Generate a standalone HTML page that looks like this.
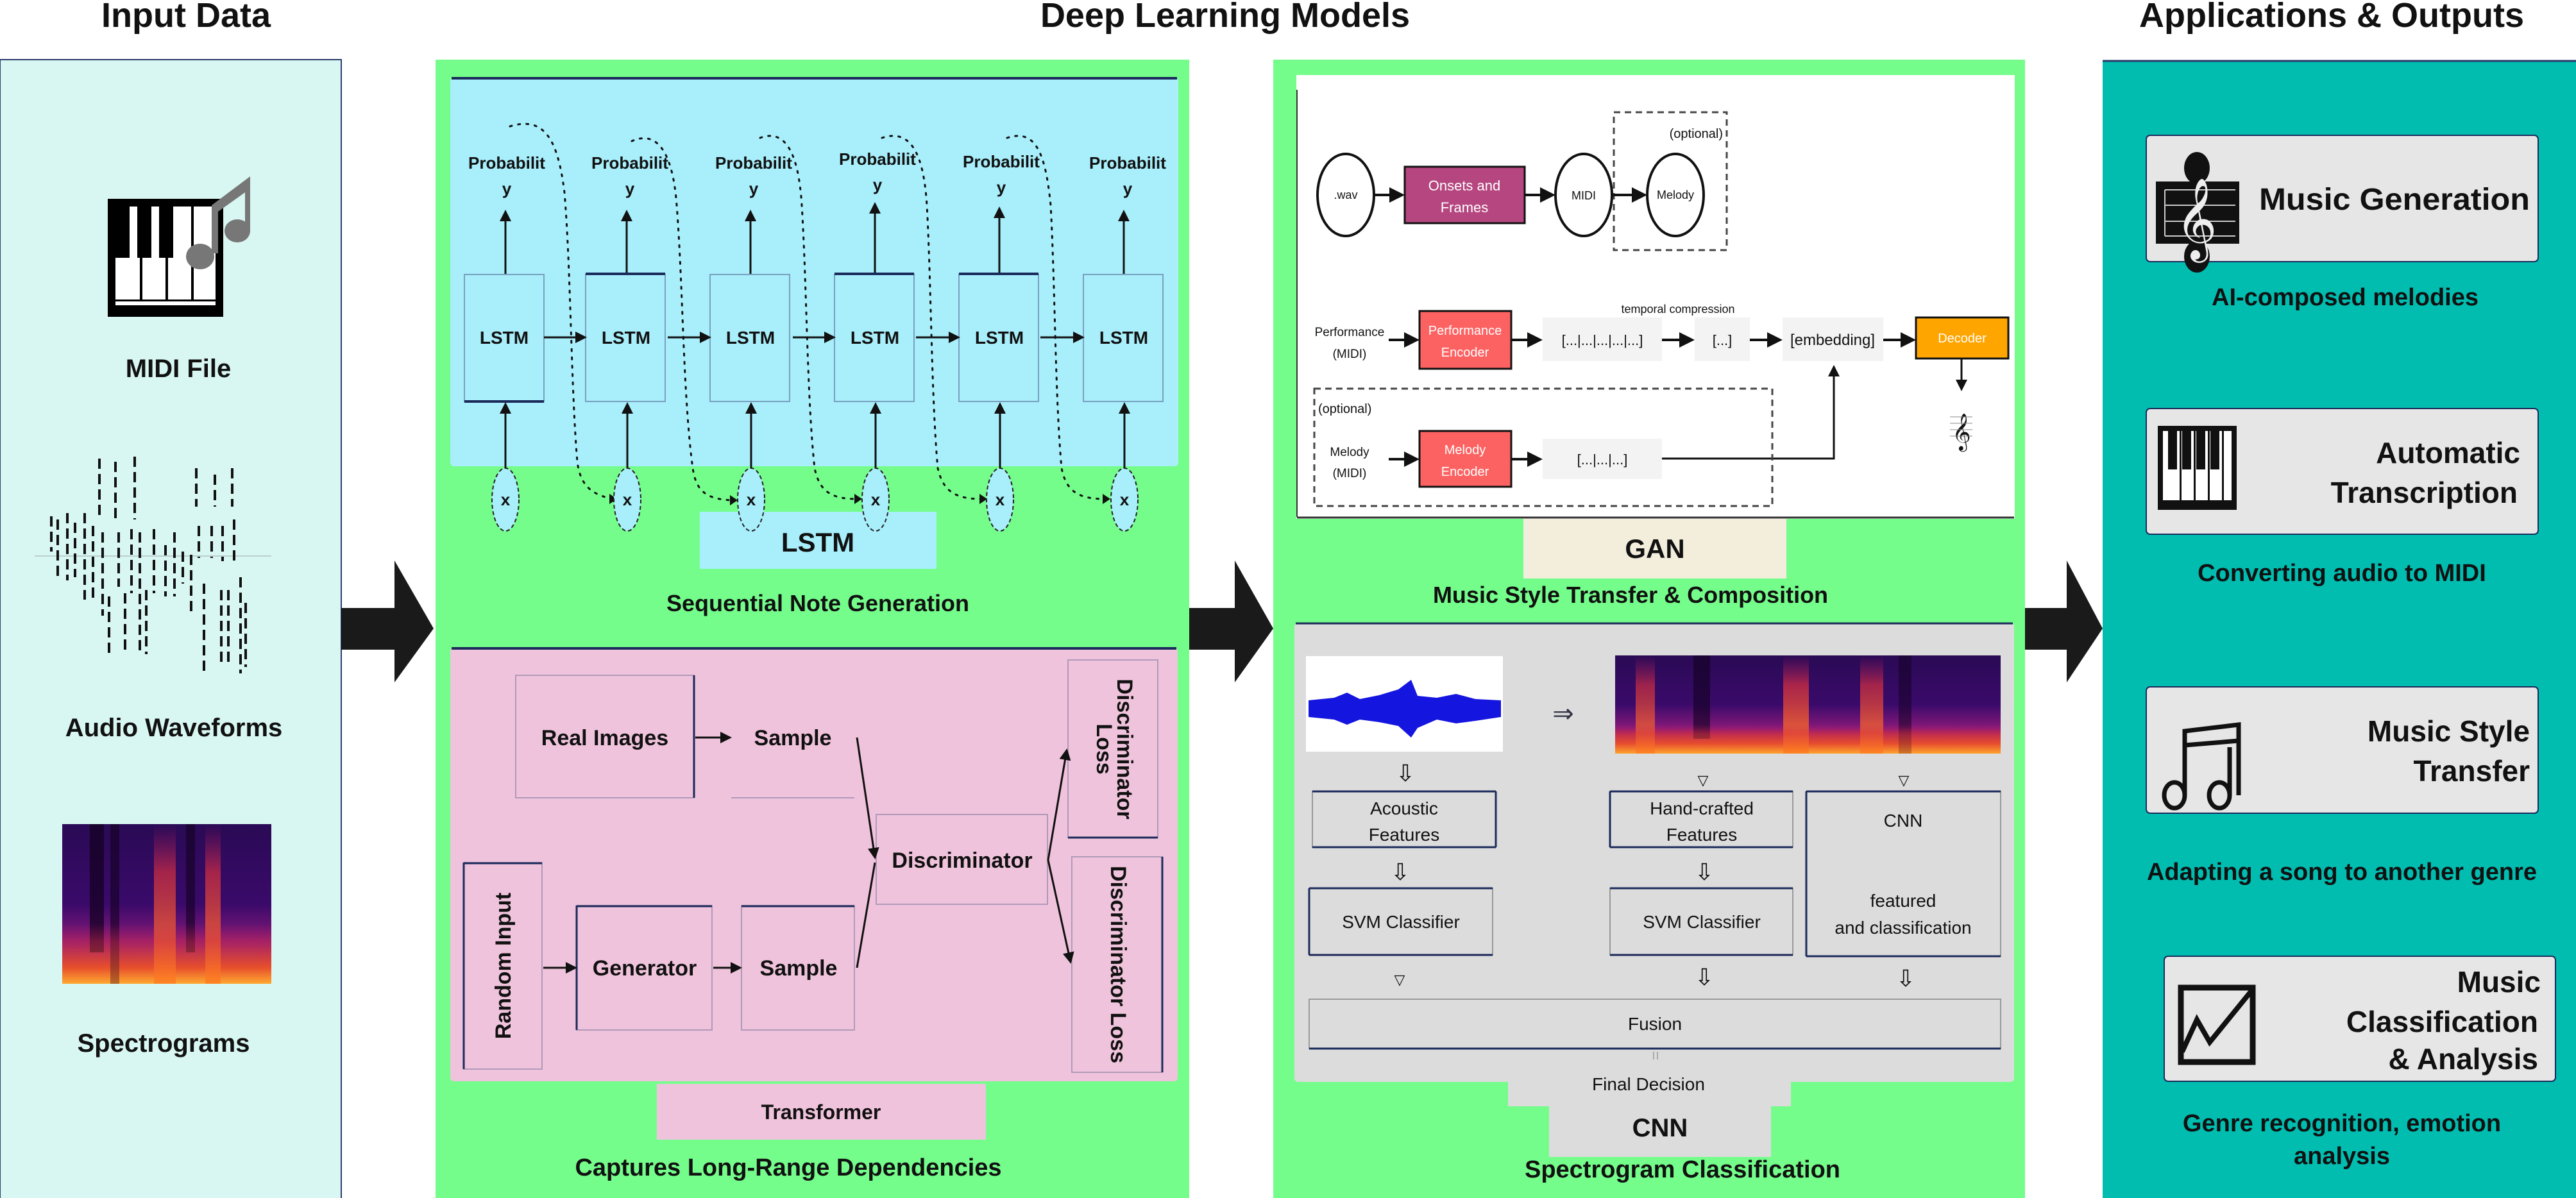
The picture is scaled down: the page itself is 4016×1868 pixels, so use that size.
<!DOCTYPE html>
<html><head><meta charset="utf-8"><style>
html,body{margin:0;padding:0;background:#fff;}
svg{display:block;}
text{font-family:"Liberation Sans",Arial,sans-serif;font-weight:bold;fill:#111;}
.n{font-weight:normal;}
</style></head><body>
<svg width="4016" height="1868" viewBox="0 0 4016 1868" xmlns="http://www.w3.org/2000/svg">
<defs>
<marker id="ah" markerWidth="8" markerHeight="8" refX="7" refY="4" orient="auto" markerUnits="strokeWidth"><path d="M0,0 L8,4 L0,8 z" fill="#111"/></marker>
<marker id="ahs" markerWidth="6" markerHeight="6" refX="5" refY="3" orient="auto" markerUnits="strokeWidth"><path d="M0,0 L6,3 L0,6 z" fill="#111"/></marker>
<linearGradient id="spec" x1="0" y1="0" x2="0" y2="1">
<stop offset="0" stop-color="#2a0a55"/><stop offset="0.5" stop-color="#3a0a6a"/><stop offset="0.75" stop-color="#8a1a7a"/><stop offset="0.9" stop-color="#e0402a"/><stop offset="1" stop-color="#ffd040"/></linearGradient>
<linearGradient id="band" x1="0" y1="0" x2="0" y2="1">
<stop offset="0" stop-color="#c0205a" stop-opacity="0"/><stop offset="0.3" stop-color="#d83040" stop-opacity="0.8"/><stop offset="1" stop-color="#ff8020"/></linearGradient>
</defs>

<!-- titles -->
<text x="290" y="42" font-size="54" text-anchor="middle">Input Data</text>
<text x="1910" y="42" font-size="54" text-anchor="middle">Deep Learning Models</text>
<text x="3635" y="42" font-size="54" text-anchor="middle">Applications &amp; Outputs</text>

<!-- panels -->
<rect x="0" y="93" width="532" height="1780" fill="#d9f7f2" stroke="#2a3a6a" stroke-width="2"/>
<rect x="679" y="93" width="1175" height="1780" fill="#75fd8b"/>
<rect x="1985" y="93" width="1172" height="1780" fill="#75fd8b"/>
<rect x="3278" y="94" width="738" height="1780" fill="#00bdb0"/>
<line x1="3278" y1="95" x2="4016" y2="95" stroke="#2a3a6a" stroke-width="3"/>

<!-- big arrows -->
<g fill="#1a1a1a">
<path d="M532,948 L615,948 L615,874 L676,980 L615,1064 L615,1013 L532,1013 z"/>
<path d="M1854,948 L1925,948 L1925,874 L1985,980 L1925,1064 L1925,1013 L1854,1013 z"/>
<path d="M3157,948 L3222,948 L3222,874 L3278,980 L3222,1064 L3222,1013 L3157,1013 z"/>
</g>

<!-- Input panel content -->
<g>
<rect x="168" y="310" width="180" height="184" fill="#000"/>
<rect x="180" y="322" width="156" height="145" fill="#fff"/>
<rect x="180" y="322" width="22" height="80" fill="#000"/>
<rect x="214" y="322" width="22" height="80" fill="#000"/>
<rect x="248" y="322" width="22" height="80" fill="#000"/>
<rect x="218" y="322" width="4" height="145" fill="#000"/>
<rect x="258" y="322" width="4" height="145" fill="#000"/>
<rect x="298" y="322" width="4" height="145" fill="#000"/>
<rect x="180" y="470" width="156" height="6" fill="#fff"/>
<path d="M330,320 L390,275 L390,360 L382,360 L382,300 L340,330 L340,395 L330,395 z" fill="#777"/>
<ellipse cx="312" cy="400" rx="22" ry="20" fill="#777"/>
<ellipse cx="370" cy="360" rx="20" ry="18" fill="#777"/>
</g>
<text x="278" y="588" font-size="40" text-anchor="middle">MIDI File</text>
<line x1="54" y1="867" x2="423" y2="867" stroke="#bcd0cc" stroke-width="2"/>
<g stroke="#111" stroke-width="4" stroke-dasharray="16 8">
<line x1="80" y1="805" x2="80" y2="860"/><line x1="90" y1="810" x2="90" y2="905"/><line x1="105" y1="800" x2="105" y2="905"/><line x1="117" y1="815" x2="117" y2="900"/>
<line x1="132" y1="800" x2="132" y2="935"/><line x1="145" y1="820" x2="145" y2="940"/><line x1="155" y1="715" x2="155" y2="810"/><line x1="160" y1="830" x2="160" y2="960"/>
<line x1="170" y1="930" x2="170" y2="1025"/><line x1="180" y1="720" x2="180" y2="810"/><line x1="185" y1="830" x2="185" y2="915"/><line x1="195" y1="925" x2="195" y2="1020"/>
<line x1="205" y1="825" x2="205" y2="925"/><line x1="210" y1="712" x2="210" y2="810"/><line x1="218" y1="830" x2="218" y2="1020"/><line x1="228" y1="920" x2="228" y2="1020"/>
<line x1="240" y1="825" x2="240" y2="925"/><line x1="258" y1="850" x2="258" y2="930"/><line x1="272" y1="830" x2="272" y2="930"/><line x1="285" y1="860" x2="285" y2="910"/>
<line x1="298" y1="865" x2="298" y2="960"/><line x1="306" y1="730" x2="306" y2="790"/><line x1="310" y1="820" x2="310" y2="870"/><line x1="318" y1="910" x2="318" y2="1050"/>
<line x1="330" y1="820" x2="330" y2="870"/><line x1="335" y1="740" x2="335" y2="790"/><line x1="345" y1="920" x2="345" y2="1040"/><line x1="347" y1="820" x2="347" y2="875"/>
<line x1="356" y1="920" x2="356" y2="1040"/><line x1="362" y1="730" x2="362" y2="790"/><line x1="365" y1="810" x2="365" y2="880"/><line x1="375" y1="900" x2="375" y2="1050"/><line x1="383" y1="940" x2="383" y2="1040"/>
</g>
<text x="271" y="1148" font-size="40" text-anchor="middle">Audio Waveforms</text>
<g>
<rect x="97" y="1285" width="326" height="249" fill="url(#spec)"/>
<rect x="140" y="1285" width="22" height="200" fill="#12001e" opacity="0.7"/>
<rect x="172" y="1285" width="14" height="249" fill="#12001e" opacity="0.6"/>
<rect x="240" y="1285" width="34" height="249" fill="url(#band)" opacity="0.85"/>
<rect x="320" y="1285" width="24" height="249" fill="url(#band)" opacity="0.85"/>
<rect x="290" y="1285" width="14" height="200" fill="#12001e" opacity="0.6"/>
<rect x="97" y="1440" width="326" height="94" fill="url(#band)" opacity="0.5"/>
</g>
<text x="255" y="1640" font-size="40" text-anchor="middle">Spectrograms</text>

<!-- LSTM section -->
<rect x="702" y="121" width="1135" height="606" rx="6" fill="#a8eefb"/>
<line x1="704" y1="122" x2="1835" y2="122" stroke="#1a2a5a" stroke-width="4"/>
<g font-size="26" text-anchor="middle">
<text x="790" y="263">Probabilit</text><text x="790" y="303">y</text>
<text x="982" y="263">Probabilit</text><text x="982" y="303">y</text>
<text x="1175" y="263">Probabilit</text><text x="1175" y="303">y</text>
<text x="1368" y="257">Probabilit</text><text x="1368" y="297">y</text>
<text x="1561" y="261">Probabilit</text><text x="1561" y="301">y</text>
<text x="1758" y="263">Probabilit</text><text x="1758" y="303">y</text>
</g>
<g stroke="#111" stroke-width="3" fill="none">
<line x1="788" y1="428" x2="788" y2="330" marker-end="url(#ahs)"/>
<line x1="977" y1="428" x2="977" y2="330" marker-end="url(#ahs)"/>
<line x1="1170" y1="428" x2="1170" y2="330" marker-end="url(#ahs)"/>
<line x1="1364" y1="428" x2="1364" y2="318" marker-end="url(#ahs)"/>
<line x1="1558" y1="428" x2="1558" y2="325" marker-end="url(#ahs)"/>
<line x1="1752" y1="428" x2="1752" y2="330" marker-end="url(#ahs)"/>
</g>
<g fill="none" stroke="#7aa0c0" stroke-width="2">
<rect x="724" y="428" width="124" height="198"/>
<rect x="913" y="428" width="124" height="198"/>
<rect x="1107" y="428" width="124" height="198"/>
<rect x="1301" y="428" width="124" height="198"/>
<rect x="1495" y="428" width="124" height="198"/>
<rect x="1689" y="428" width="124" height="198"/>
</g>
<g stroke="#1a2a5a" stroke-width="4">
<line x1="724" y1="626" x2="848" y2="626"/>
<line x1="913" y1="427" x2="1037" y2="427"/>
<line x1="1301" y1="427" x2="1425" y2="427"/>
<line x1="1495" y1="427" x2="1619" y2="427"/>
</g>
<g font-size="28" text-anchor="middle">
<text x="786" y="536">LSTM</text><text x="976" y="536">LSTM</text><text x="1170" y="536">LSTM</text>
<text x="1364" y="536">LSTM</text><text x="1558" y="536">LSTM</text><text x="1752" y="536">LSTM</text>
</g>
<g stroke="#111" stroke-width="3" fill="none">
<line x1="848" y1="526" x2="912" y2="526" marker-end="url(#ahs)"/>
<line x1="1041" y1="526" x2="1106" y2="526" marker-end="url(#ahs)"/>
<line x1="1236" y1="526" x2="1300" y2="526" marker-end="url(#ahs)"/>
<line x1="1428" y1="526" x2="1494" y2="526" marker-end="url(#ahs)"/>
<line x1="1622" y1="526" x2="1688" y2="526" marker-end="url(#ahs)"/>
<line x1="788" y1="730" x2="788" y2="630" marker-end="url(#ahs)"/>
<line x1="978" y1="730" x2="978" y2="630" marker-end="url(#ahs)"/>
<line x1="1171" y1="730" x2="1171" y2="630" marker-end="url(#ahs)"/>
<line x1="1365" y1="730" x2="1365" y2="630" marker-end="url(#ahs)"/>
<line x1="1559" y1="730" x2="1559" y2="630" marker-end="url(#ahs)"/>
<line x1="1753" y1="730" x2="1753" y2="630" marker-end="url(#ahs)"/>
</g>
<g stroke="#111" stroke-width="3" fill="none" stroke-dasharray="3 10" stroke-linecap="round">
<path d="M795,197 C850,180 870,220 880,300 C890,420 890,600 900,720 C905,760 925,770 950,777"/>
<path d="M985,220 C1030,200 1050,250 1055,320 C1065,450 1065,620 1080,730 C1085,765 1100,778 1140,780"/>
<path d="M1185,215 C1225,200 1245,240 1250,320 C1258,450 1258,620 1270,730 C1277,765 1295,778 1335,778"/>
<path d="M1375,215 C1420,200 1440,240 1445,320 C1452,450 1452,620 1462,730 C1470,765 1488,778 1530,778"/>
<path d="M1570,215 C1615,200 1630,240 1638,320 C1645,450 1645,620 1655,730 C1662,765 1680,778 1722,778"/>
</g>
<g fill="#111"><path d="M950,770 L962,778 L950,786z"/><path d="M1138,772 L1150,780 L1138,788z"/><path d="M1332,770 L1344,778 L1332,786z"/><path d="M1527,770 L1539,778 L1527,786z"/><path d="M1719,770 L1731,778 L1719,786z"/></g>
<rect x="1091" y="798" width="369" height="89" fill="#a8eefb"/>
<text x="1275" y="860" font-size="42" text-anchor="middle">LSTM</text>
<g fill="#a8eefb" stroke="#222" stroke-width="2" stroke-dasharray="6 4">
<ellipse cx="788" cy="779" rx="21" ry="49"/><ellipse cx="978" cy="779" rx="21" ry="49"/><ellipse cx="1171" cy="779" rx="21" ry="49"/>
<ellipse cx="1365" cy="779" rx="21" ry="49"/><ellipse cx="1559" cy="779" rx="21" ry="49"/><ellipse cx="1753" cy="779" rx="21" ry="49"/>
</g>
<g font-size="26" text-anchor="middle">
<text x="788" y="788">x</text><text x="978" y="788">x</text><text x="1171" y="788">x</text><text x="1365" y="788">x</text><text x="1559" y="788">x</text><text x="1753" y="788">x</text>
</g>
<text x="1275" y="953" font-size="36" text-anchor="middle">Sequential Note Generation</text>

<!-- Pink diagram -->
<rect x="702" y="1010" width="1134" height="676" rx="6" fill="#f0c3dc"/>
<line x1="704" y1="1011" x2="1834" y2="1011" stroke="#1a2a5a" stroke-width="4"/>
<g fill="none" stroke="#b09ab8" stroke-width="2">
<rect x="804" y="1053" width="278" height="191"/>
<line x1="1140" y1="1244" x2="1332" y2="1244"/>
<rect x="1366" y="1270" width="267" height="140"/>
<rect x="1665" y="1029" width="140" height="277"/>
<rect x="723" y="1345" width="122" height="322"/>
<rect x="899" y="1412" width="211" height="194"/>
<rect x="1156" y="1412" width="176" height="194"/>
<rect x="1671" y="1336" width="141" height="336"/>
</g>
<g stroke="#1a2a5a" stroke-width="3">
<line x1="1082" y1="1053" x2="1082" y2="1244"/>
<line x1="723" y1="1346" x2="845" y2="1346"/><line x1="723" y1="1345" x2="723" y2="1667"/>
<line x1="899" y1="1413" x2="1110" y2="1413"/><line x1="899" y1="1412" x2="899" y2="1606"/>
<line x1="1156" y1="1413" x2="1332" y2="1413"/>
<line x1="1665" y1="1306" x2="1805" y2="1306"/>
<line x1="1812" y1="1336" x2="1812" y2="1672"/>
</g>
<g font-size="34" text-anchor="middle">
<text x="943" y="1162">Real Images</text>
<text x="1236" y="1162">Sample</text>
<text x="1500" y="1353">Discriminator</text>
<text x="1005" y="1521">Generator</text>
<text x="1245" y="1521">Sample</text>
</g>
<text font-size="34" text-anchor="middle" transform="translate(1742,1168) rotate(90)">Discriminator</text>
<text font-size="34" text-anchor="middle" transform="translate(1710,1168) rotate(90)">Loss</text>
<text font-size="34" text-anchor="middle" transform="translate(1732,1504) rotate(90)">Discriminator Loss</text>
<text font-size="34" text-anchor="middle" transform="translate(796,1506) rotate(-90)">Random Input</text>
<g stroke="#111" stroke-width="3" fill="none">
<line x1="1084" y1="1150" x2="1138" y2="1150" marker-end="url(#ahs)"/>
<line x1="847" y1="1509" x2="897" y2="1509" marker-end="url(#ahs)"/>
<line x1="1112" y1="1509" x2="1154" y2="1509" marker-end="url(#ahs)"/>
<line x1="1336" y1="1150" x2="1364" y2="1337" marker-end="url(#ahs)"/>
<line x1="1336" y1="1509" x2="1364" y2="1345"/>
<line x1="1634" y1="1341" x2="1663" y2="1170" marker-end="url(#ahs)"/>
<line x1="1634" y1="1341" x2="1669" y2="1500" marker-end="url(#ahs)"/>
</g>
<rect x="1024" y="1690" width="513" height="87" fill="#f0c3dc"/>
<text x="1280" y="1745" font-size="32" text-anchor="middle">Transformer</text>
<text x="1229" y="1833" font-size="38" text-anchor="middle">Captures Long-Range Dependencies</text>

<!-- GAN white box -->
<rect x="2021" y="117" width="1120" height="692" fill="#fff"/>
<line x1="2022" y1="140" x2="2022" y2="806" stroke="#333" stroke-width="2"/>
<line x1="2022" y1="807" x2="3140" y2="807" stroke="#333" stroke-width="3"/>
<g fill="#fff" stroke="#111" stroke-width="4">
<ellipse cx="2098" cy="304" rx="44" ry="64"/>
<ellipse cx="2469" cy="304" rx="44" ry="64"/>
<ellipse cx="2612" cy="304" rx="44" ry="64"/>
</g>
<rect x="2190" y="260" width="187" height="88" fill="#b5467f" stroke="#111" stroke-width="3"/>
<rect x="2516" y="175" width="176" height="215" fill="none" stroke="#444" stroke-width="3" stroke-dasharray="10 7"/>
<text x="2686" y="215" font-size="20" text-anchor="end" class="n">(optional)</text>
<g font-size="18" class="n" text-anchor="middle">
<text x="2098" y="310" class="n">.wav</text>
<text x="2469" y="311" class="n">MIDI</text>
<text x="2612" y="310" class="n">Melody</text>
</g>
<text x="2283" y="297" font-size="22" text-anchor="middle" class="n" style="fill:#fff">Onsets and</text>
<text x="2283" y="331" font-size="22" text-anchor="middle" class="n" style="fill:#fff">Frames</text>
<g stroke="#111" stroke-width="4" fill="none">
<line x1="2142" y1="304" x2="2186" y2="304" marker-end="url(#ahs)"/>
<line x1="2377" y1="304" x2="2421" y2="304" marker-end="url(#ahs)"/>
<line x1="2513" y1="304" x2="2564" y2="304" marker-end="url(#ahs)"/>
</g>
<text x="2616" y="488" font-size="18" text-anchor="middle" class="n">temporal compression</text>
<text x="2104" y="524" font-size="19" text-anchor="middle" class="n">Performance</text>
<text x="2104" y="558" font-size="19" text-anchor="middle" class="n">(MIDI)</text>
<rect x="2213" y="485" width="143" height="90" fill="#fd6262" stroke="#111" stroke-width="3"/>
<text x="2284" y="522" font-size="20" text-anchor="middle" class="n" style="fill:#fff">Performance</text>
<text x="2284" y="556" font-size="20" text-anchor="middle" class="n" style="fill:#fff">Encoder</text>
<rect x="2405" y="495" width="186" height="68" fill="#f3f3f3"/>
<text x="2498" y="538" font-size="22" text-anchor="middle" class="n">[...|...|...|...|...]</text>
<rect x="2642" y="495" width="86" height="68" fill="#f3f3f3"/>
<text x="2685" y="538" font-size="22" text-anchor="middle" class="n">[...]</text>
<rect x="2779" y="495" width="157" height="68" fill="#f3f3f3"/>
<text x="2857" y="538" font-size="24" text-anchor="middle" class="n">[embedding]</text>
<rect x="2987" y="495" width="144" height="64" fill="#ffa500" stroke="#111" stroke-width="3"/>
<text x="3059" y="534" font-size="20" text-anchor="middle" class="n" style="fill:#fff">Decoder</text>
<g stroke="#111" stroke-width="4" fill="none">
<line x1="2165" y1="530" x2="2209" y2="530" marker-end="url(#ahs)"/>
<line x1="2356" y1="530" x2="2401" y2="530" marker-end="url(#ahs)"/>
<line x1="2591" y1="530" x2="2638" y2="530" marker-end="url(#ahs)"/>
<line x1="2728" y1="530" x2="2775" y2="530" marker-end="url(#ahs)"/>
<line x1="2936" y1="530" x2="2983" y2="530" marker-end="url(#ahs)"/>
<line x1="2165" y1="716" x2="2209" y2="716" marker-end="url(#ahs)"/>
<line x1="2356" y1="716" x2="2401" y2="716" marker-end="url(#ahs)"/>
</g>
<g stroke="#111" stroke-width="3" fill="none">
<line x1="3058" y1="559" x2="3058" y2="607" marker-end="url(#ahs)"/>
<polyline points="2591,715 2859,715 2859,572" marker-end="url(#ahs)"/>
</g>
<text x="3058" y="690" font-size="50" text-anchor="middle" class="n">𝄞</text>
<g stroke="#888" stroke-width="1"><line x1="3040" y1="650" x2="3075" y2="650"/><line x1="3040" y1="660" x2="3075" y2="660"/><line x1="3040" y1="670" x2="3075" y2="670"/><line x1="3040" y1="680" x2="3075" y2="680"/></g>
<rect x="2049" y="606" width="714" height="183" fill="none" stroke="#444" stroke-width="3" stroke-dasharray="10 7"/>
<text x="2055" y="644" font-size="20" class="n">(optional)</text>
<text x="2104" y="711" font-size="19" text-anchor="middle" class="n">Melody</text>
<text x="2104" y="744" font-size="19" text-anchor="middle" class="n">(MIDI)</text>
<rect x="2213" y="672" width="143" height="87" fill="#fd6262" stroke="#111" stroke-width="3"/>
<text x="2284" y="708" font-size="20" text-anchor="middle" class="n" style="fill:#fff">Melody</text>
<text x="2284" y="742" font-size="20" text-anchor="middle" class="n" style="fill:#fff">Encoder</text>
<rect x="2405" y="684" width="186" height="63" fill="#f3f3f3"/>
<text x="2498" y="724" font-size="22" text-anchor="middle" class="n">[...|...|...]</text>
<rect x="2375" y="809" width="410" height="93" fill="#f3eedc"/>
<text x="2580" y="870" font-size="42" text-anchor="middle">GAN</text>
<text x="2542" y="940" font-size="36" text-anchor="middle">Music Style Transfer &amp; Composition</text>

<!-- CNN section -->
<rect x="2018" y="971" width="1122" height="716" rx="6" fill="#dcdcdc"/>
<line x1="2020" y1="972" x2="3138" y2="972" stroke="#1a2a5a" stroke-width="3"/>
<rect x="2036" y="1023" width="307" height="149" fill="#fff"/>
<path d="M2040,1092 L2080,1088 L2100,1080 L2120,1090 L2150,1084 L2180,1075 L2200,1060 L2210,1085 L2240,1088 L2270,1082 L2300,1090 L2340,1092 L2340,1118 L2300,1124 L2270,1128 L2240,1122 L2210,1135 L2200,1150 L2180,1132 L2150,1126 L2120,1122 L2100,1130 L2080,1122 L2040,1118 z" fill="#1515e0"/>
<text x="2437" y="1126" font-size="40" text-anchor="middle" class="n" style="fill:#334">⇒</text>
<rect x="2518" y="1022" width="601" height="153" fill="url(#spec)"/>
<rect x="2550" y="1022" width="30" height="153" fill="url(#band)" opacity="0.8"/>
<rect x="2640" y="1022" width="26" height="130" fill="#12001e" opacity="0.6"/>
<rect x="2780" y="1022" width="40" height="153" fill="url(#band)" opacity="0.9"/>
<rect x="2900" y="1022" width="36" height="153" fill="url(#band)" opacity="0.85"/>
<rect x="2960" y="1022" width="20" height="153" fill="#12001e" opacity="0.5"/>
<rect x="2518" y="1130" width="601" height="45" fill="url(#band)" opacity="0.6"/>
<g font-size="36" text-anchor="middle" class="n" style="fill:#445">
<text x="2191" y="1218" class="n">⇩</text>
<text x="2183" y="1372" class="n">⇩</text>
<text x="2657" y="1372" class="n">⇩</text>
<text x="2657" y="1536" class="n">⇩</text>
<text x="2971" y="1538" class="n">⇩</text>
</g>
<g font-size="22" text-anchor="middle" class="n" style="fill:#445">
<text x="2655" y="1224" class="n">▽</text><text x="2968" y="1224" class="n">▽</text><text x="2182" y="1535" class="n">▽</text>
</g>
<g fill="none" stroke="#999" stroke-width="2">
<rect x="2046" y="1234" width="286" height="87"/>
<rect x="2041" y="1385" width="286" height="104"/>
<rect x="2510" y="1234" width="285" height="87"/>
<rect x="2510" y="1385" width="285" height="104"/>
<rect x="2816" y="1234" width="303" height="257"/>
<rect x="2041" y="1558" width="1078" height="77"/>
</g>
<g stroke="#1a2a5a" stroke-width="3">
<line x1="2046" y1="1234" x2="2332" y2="1234"/><line x1="2046" y1="1321" x2="2332" y2="1321"/><line x1="2332" y1="1234" x2="2332" y2="1321"/>
<line x1="2041" y1="1385" x2="2327" y2="1385"/><line x1="2041" y1="1489" x2="2327" y2="1489"/><line x1="2041" y1="1385" x2="2041" y2="1489"/>
<line x1="2510" y1="1234" x2="2795" y2="1234"/><line x1="2510" y1="1321" x2="2795" y2="1321"/><line x1="2510" y1="1234" x2="2510" y2="1321"/>
<line x1="2510" y1="1385" x2="2795" y2="1385"/><line x1="2510" y1="1489" x2="2795" y2="1489"/>
<line x1="2816" y1="1234" x2="3119" y2="1234"/><line x1="2816" y1="1491" x2="3119" y2="1491"/><line x1="2816" y1="1234" x2="2816" y2="1491"/>
<line x1="2041" y1="1635" x2="3119" y2="1635"/>
</g>
<g font-size="28" text-anchor="middle" class="n" style="fill:#111">
<text x="2189" y="1270" class="n">Acoustic</text><text x="2189" y="1311" class="n">Features</text>
<text x="2184" y="1447" class="n">SVM Classifier</text>
<text x="2653" y="1270" class="n">Hand-crafted</text><text x="2653" y="1311" class="n">Features</text>
<text x="2653" y="1447" class="n">SVM Classifier</text>
<text x="2967" y="1289" class="n">CNN</text>
<text x="2967" y="1414" class="n">featured</text><text x="2967" y="1456" class="n">and classification</text>
<text x="2580" y="1606" class="n">Fusion</text>
</g>
<line x1="2578" y1="1640" x2="2578" y2="1652" stroke="#aaa" stroke-width="2"/>
<line x1="2584" y1="1640" x2="2584" y2="1652" stroke="#aaa" stroke-width="2"/>
<rect x="2351" y="1686" width="441" height="39" fill="#dcdcdc"/>
<rect x="2415" y="1725" width="346" height="79" fill="#dcdcdc"/>
<text x="2570" y="1700" font-size="28" text-anchor="middle" class="n">Final Decision</text>
<text x="2588" y="1772" font-size="40" text-anchor="middle">CNN</text>
<text x="2623" y="1836" font-size="38" text-anchor="middle">Spectrogram Classification</text>

<!-- Applications -->
<g fill="#e6e6e6" stroke="#1a2a5a" stroke-width="2">
<rect x="3346" y="211" width="611" height="197" rx="6"/>
<rect x="3346" y="637" width="611" height="196" rx="6"/>
<rect x="3346" y="1071" width="611" height="197" rx="6"/>
<rect x="3374" y="1491" width="610" height="195" rx="6"/>
</g>
<rect x="3361" y="283" width="130" height="97" fill="#111"/>
<ellipse cx="3425" cy="262" rx="20" ry="25" fill="#111"/>
<ellipse cx="3425" cy="400" rx="20" ry="25" fill="#111"/>
<g stroke="#ccc" stroke-width="2"><line x1="3375" y1="296" x2="3485" y2="296"/><line x1="3375" y1="320" x2="3485" y2="320"/><line x1="3375" y1="345" x2="3485" y2="345"/><line x1="3375" y1="368" x2="3485" y2="368"/><line x1="3375" y1="296" x2="3375" y2="368"/></g>
<text x="3424" y="378" font-size="110" text-anchor="middle" class="n" style="fill:#eee">𝄞</text>
<text x="3522" y="327" font-size="48" textLength="422" lengthAdjust="spacingAndGlyphs">Music Generation</text>
<text x="3656" y="476" font-size="38" text-anchor="middle">AI-composed melodies</text>
<rect x="3364" y="664" width="123" height="131" fill="#111"/>
<rect x="3372" y="672" width="107" height="108" fill="#fff"/>
<rect x="3380" y="672" width="14" height="60" fill="#111"/><rect x="3402" y="672" width="14" height="60" fill="#111"/><rect x="3424" y="672" width="14" height="60" fill="#111"/><rect x="3446" y="672" width="14" height="60" fill="#111"/>
<rect x="3398" y="672" width="3" height="108" fill="#111"/><rect x="3420" y="672" width="3" height="108" fill="#111"/><rect x="3442" y="672" width="3" height="108" fill="#111"/><rect x="3464" y="672" width="3" height="108" fill="#111"/>
<text x="3929" y="722" font-size="46" text-anchor="end">Automatic</text>
<text x="3925" y="784" font-size="46" text-anchor="end">Transcription</text>
<text x="3651" y="906" font-size="38" text-anchor="middle">Converting audio to MIDI</text>
<g fill="none" stroke="#111" stroke-width="7">
<ellipse cx="3390" cy="1240" rx="16" ry="20"/><ellipse cx="3460" cy="1240" rx="16" ry="20"/>
<polyline points="3406,1240 3406,1140 3490,1130 3490,1240"/>
<line x1="3406" y1="1162" x2="3490" y2="1155"/>
<line x1="3476" y1="1240" x2="3476" y2="1165"/>
</g>
<text x="3944" y="1156" font-size="46" text-anchor="end">Music Style</text>
<text x="3944" y="1218" font-size="46" text-anchor="end">Transfer</text>
<text x="3651" y="1372" font-size="38" text-anchor="middle">Adapting a song to another genre</text>
<rect x="3400" y="1540" width="112" height="116" fill="none" stroke="#111" stroke-width="9"/>
<polyline points="3402,1640 3425,1590 3445,1625 3510,1545" fill="none" stroke="#111" stroke-width="8"/>
<text x="3961" y="1547" font-size="46" text-anchor="end">Music</text>
<text x="3957" y="1609" font-size="46" text-anchor="end">Classification</text>
<text x="3957" y="1667" font-size="46" text-anchor="end">&amp; Analysis</text>
<text x="3651" y="1764" font-size="38" text-anchor="middle">Genre recognition, emotion</text>
<text x="3651" y="1815" font-size="38" text-anchor="middle">analysis</text>
</svg>
</body></html>
